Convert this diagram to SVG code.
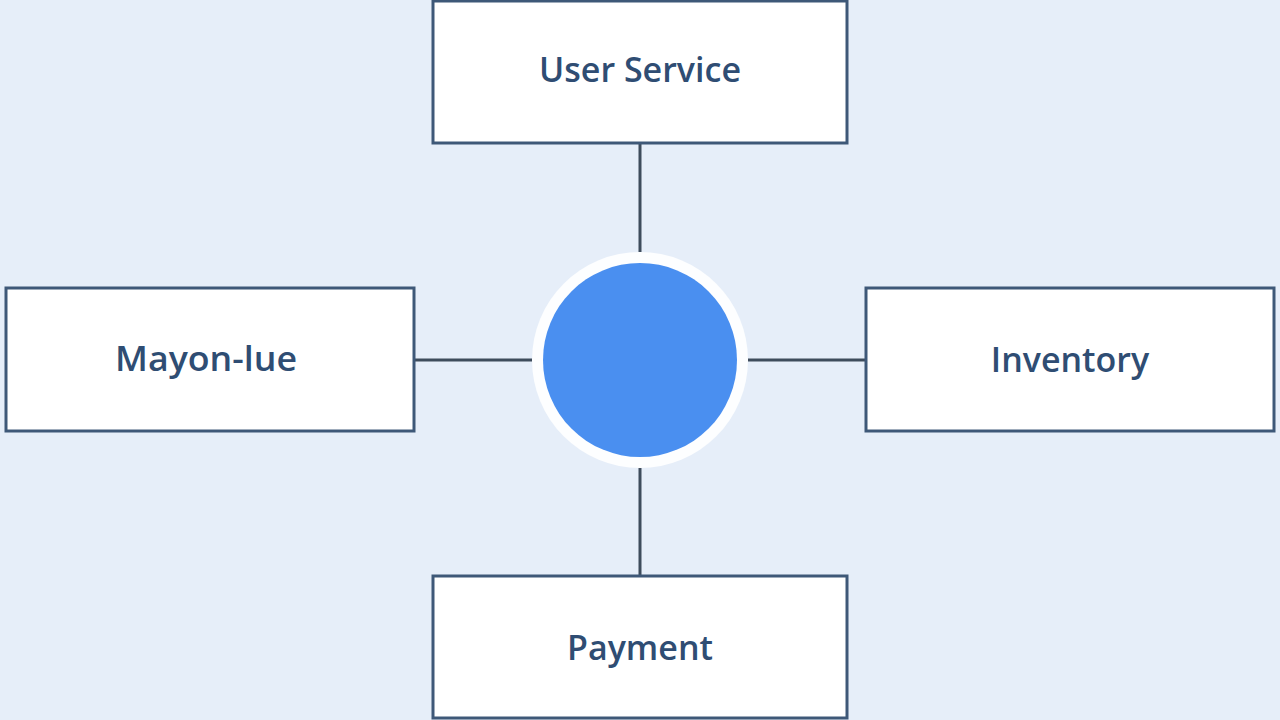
<svg xmlns="http://www.w3.org/2000/svg" width="1280" height="720" viewBox="0 0 1280 720">
<style>
.box{fill:#ffffff;stroke:#3e5878;stroke-width:3}
.lbl{font-family:"Open Sans","Liberation Sans",sans-serif;font-weight:600;font-size:34px;fill:#2f4d73;text-anchor:middle;dominant-baseline:central}
.conn{stroke:#3e4c5c;stroke-width:3;fill:none}
</style>
<rect width="1280" height="720" fill="#e6eef9"/>
<g id="connectors">
<line class="conn" x1="640" y1="143" x2="640" y2="252"/>
<line class="conn" x1="640" y1="468" x2="640" y2="576"/>
<line class="conn" x1="414" y1="360" x2="532" y2="360"/>
<line class="conn" x1="748" y1="360" x2="866" y2="360"/>
</g>
<g id="hub">
<circle cx="640" cy="360" r="108" fill="#ffffff" opacity="0.9"/>
<circle cx="640" cy="360" r="97" fill="#4a8ff0"/>
</g>
<g id="user-service">
<rect class="box" x="433" y="1" width="414" height="142"/>
<text class="lbl" x="640" y="69">User Service</text>
</g>
<g id="left-node">
<rect class="box" x="6" y="288" width="408" height="143"/>
<text class="lbl" x="206" y="358" textLength="182" lengthAdjust="spacingAndGlyphs">Mayon-lue</text>
</g>
<g id="inventory">
<rect class="box" x="866" y="288" width="408" height="143"/>
<text class="lbl" x="1070" y="359">Inventory</text>
</g>
<g id="payment">
<rect class="box" x="433" y="576" width="414" height="142"/>
<text class="lbl" x="640" y="647">Payment</text>
</g>
</svg>
